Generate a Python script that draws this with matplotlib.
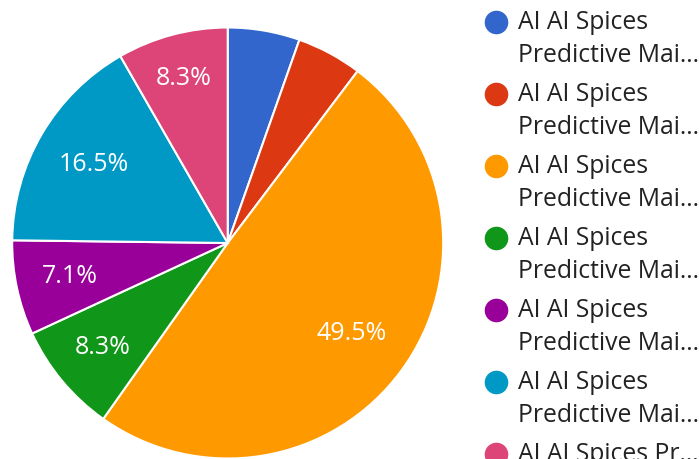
import numpy as np
import matplotlib.pyplot as plt

# slice shares in percent (clockwise from 12 o'clock)
shares = [5.4, 4.9, 49.5, 8.3, 7.1, 16.5, 8.3]
colors = ["#3366cc", "#dc3912", "#ff9900", "#109618", "#990099", "#0099c6", "#dd4477"]
legend_labels = [
    "AI AI Spices\nPredictive Mai…",
    "AI AI Spices\nPredictive Mai…",
    "AI AI Spices\nPredictive Mai…",
    "AI AI Spices\nPredictive Mai…",
    "AI AI Spices\nPredictive Mai…",
    "AI AI Spices\nPredictive Mai…",
    "AI AI Spices Pr…",
]
# radial position of each percentage label (fraction of radius)
label_dist = [0.75, 0.75, 0.715, 0.755, 0.75, 0.72, 0.79]

W, H = 699, 459
fig = plt.figure(figsize=(W / 100, H / 100), dpi=100)
ax = fig.add_axes([0, 0, 1, 1])

cx, cy, R = 227.7, H - 243, 215.5
ax.pie(shares, colors=colors, startangle=90, counterclock=False,
       center=(cx, cy), radius=R,
       wedgeprops=dict(edgecolor="white", linewidth=1.5))

total = sum(shares)
cum = 0
for s, d in zip(shares, label_dist):
    mid = (cum + s / 2) / total * 2 * np.pi
    cum += s
    pct = s / total * 100
    if pct < 6:
        continue
    x = cx + np.sin(mid) * R * d
    y = cy + np.cos(mid) * R * d
    ax.text(x, y, f"{pct:.1f}%", color="white", fontsize=18,
            family="Open Sans", ha="center", va="center")

# legend on the right
for i, (lab, c) in enumerate(zip(legend_labels, colors)):
    ly = H - (21.5 + i * 72)
    ax.scatter([496], [ly], s=np.pi * 12.5 ** 2 * 0.52, color=c, clip_on=False)
    lines = lab.split("\n")
    for j, line in enumerate(lines):
        ax.text(518, ly - 7.5 - j * 33, line, color="#222222", fontsize=17.8,
                family="Open Sans", ha="left", va="baseline")

ax.set_xlim(0, W)
ax.set_ylim(0, H)
ax.set_aspect("auto")
ax.axis("off")

fig.savefig("out.png", dpi=100)
